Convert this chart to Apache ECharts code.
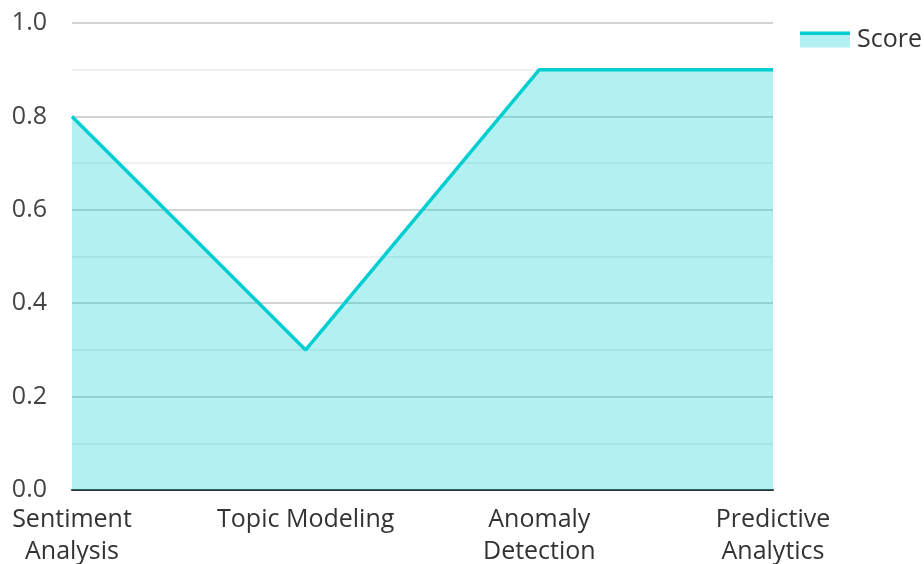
<!DOCTYPE html>
<html><head><meta charset="utf-8">
<script src="https://cdn.jsdelivr.net/npm/echarts@6/dist/echarts.min.js"></script>
<style>html,body{margin:0;padding:0;background:#fff}#c{width:924px;height:564px}</style>
</head><body><div id="c"></div>
<script>
const categories = ['Sentiment\nAnalysis', 'Topic Modeling', 'Anomaly\nDetection', 'Predictive\nAnalytics'];
const scores = [0.8, 0.3, 0.9, 0.9];
const seriesName = 'Score';
const FONT = '"Open Sans", "Noto Sans", sans-serif';
const chart = echarts.init(document.getElementById('c'));
chart.setOption({
  animation: false,
  textStyle: { fontFamily: FONT },
  grid: { left: 72, right: 151, top: 23, bottom: 74, containLabel: false, outerBoundsMode: 'none' },
  legend: {
    data: [seriesName], right: -3, top: 22, orient: 'vertical',
    itemWidth: 50, itemHeight: 16, itemGap: 8, icon: 'rect',
    itemStyle: { color: { type: 'linear', x: 0, y: 0, x2: 0, y2: 1, colorStops: [
      { offset: 0, color: '#00CED1' }, { offset: 0.25, color: '#00CED1' },
      { offset: 0.25, color: '#B2F0F1' }, { offset: 1, color: '#B2F0F1' }] }, borderWidth: 0 },
    lineStyle: { width: 0 },
    textStyle: { fontFamily: FONT, fontSize: 25, color: '#333', padding: [0, 0, 12, 2] }
  },
  xAxis: {
    type: 'category', data: categories, boundaryGap: false,
    axisLine: { lineStyle: { color: '#333', width: 2 } },
    axisTick: { show: false },
    axisLabel: { fontFamily: FONT, fontSize: 25, color: '#333', lineHeight: 32, margin: 14, interval: 0 }
  },
  yAxis: {
    type: 'value', min: 0, max: 1, interval: 0.2,
    axisLine: { show: false }, axisTick: { show: false },
    axisLabel: { fontFamily: FONT, fontSize: 25, color: '#444', margin: 25, formatter: v => v.toFixed(1) },
    splitLine: { lineStyle: { color: '#c4c4c4', width: 1.5 } },
    minorTick: { show: false, splitNumber: 2 },
    minorSplitLine: { show: true, lineStyle: { color: '#ececec', width: 1.5 } }
  },
  series: [{
    name: seriesName, type: 'line', data: scores,
    symbol: 'none', lineStyle: { color: '#00CED1', width: 3.5 },
    itemStyle: { color: '#00CED1' },
    areaStyle: { color: '#00CED1', opacity: 0.3 }
  }]
});
</script></body></html>
